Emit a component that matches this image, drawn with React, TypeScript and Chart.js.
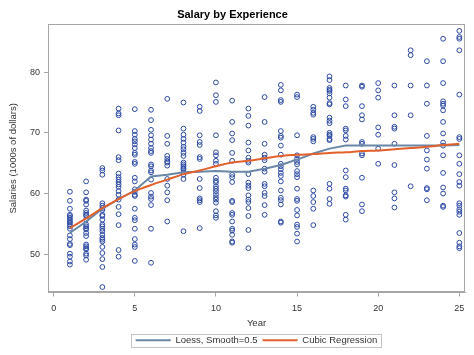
import React, { useEffect, useRef } from "react";
import { Chart, registerables } from "chart.js";

Chart.register(...registerables);

const chartTitle = "Salary by Experience";
const xTitle = "Year";
const yTitle = "Salaries (1000s of dollars)";
const seriesNames = ["Loess, Smooth=0.5", "Cubic Regression"];

const years = [1, 2, 3, 4, 5, 6, 7, 8, 9, 10, 11, 12, 13, 14, 15, 16, 17, 18, 19, 20, 21, 22, 23, 24, 25];
const xTicks = [0, 5, 10, 15, 20, 25];
const yTicks = [50, 60, 70, 80];

// Observed salaries for each year of experience
const year01 = [60.3, 58.8, 57.5, 56.5, 56.3, 56.0, 55.7, 55.4, 55.2, 54.9, 54.6, 54.2, 53.1, 52.5, 51.7, 51.5, 50.1, 49.6, 48.8, 48.3];
const year02 = [62.0, 60.2, 59.0, 58.8, 58.2, 57.2, 56.8, 56.5, 56.3, 55.7, 54.9, 54.6, 54.3, 54.1, 53.5, 53.0, 51.6, 51.3, 51.0, 50.8, 50.1, 49.8, 49.1];
const year03 = [64.2, 63.8, 63.1, 58.4, 58.0, 57.6, 57.3, 56.5, 56.3, 55.7, 54.9, 54.6, 54.2, 53.8, 53.2, 52.7, 52.4, 52.1, 51.2, 50.2, 49.2, 47.9, 44.6];
const year04 = [74.0, 73.2, 72.9, 70.4, 66.0, 65.5, 63.3, 62.7, 62.3, 61.9, 61.5, 61.1, 60.4, 59.8, 59.0, 57.8, 56.6, 54.8, 50.7, 49.6];
const year05 = [73.9, 70.3, 69.7, 69.0, 68.6, 68.1, 67.5, 66.7, 66.4, 65.2, 64.9, 62.6, 62.0, 60.7, 60.3, 59.8, 59.6, 57.5, 56.0, 55.6, 54.2, 52.5, 51.6, 51.2, 48.9];
const year06 = [73.8, 72.1, 70.5, 69.6, 68.9, 68.2, 67.5, 67.0, 66.7, 64.8, 64.5, 63.8, 63.5, 62.3, 60.1, 59.5, 59.1, 58.1, 54.2, 48.6];
const year07 = [75.6, 69.5, 68.2, 66.2, 65.7, 65.3, 65.1, 64.6, 62.4, 61.3, 60.2, 58.9, 55.4];
const year08 = [75.0, 70.7, 69.7, 69.0, 68.4, 67.7, 67.3, 66.7, 66.2, 65.1, 64.8, 64.5, 64.2, 64.0, 63.5, 63.1, 62.4, 53.8];
const year09 = [74.3, 73.6, 69.6, 68.5, 68.0, 66.0, 65.7, 62.4, 60.9, 59.2, 58.9, 58.6, 54.3];
const year10 = [78.3, 76.2, 75.1, 69.6, 66.8, 66.3, 65.4, 64.9, 62.6, 62.1, 61.8, 61.2, 60.8, 60.4, 59.9, 59.4, 59.0, 58.5, 57.1, 56.4, 56.0];
const year11 = [75.3, 71.8, 69.9, 68.8, 66.7, 65.4, 63.1, 62.7, 61.9, 58.8, 58.6, 56.8, 56.5, 55.4, 54.2, 53.9, 53.2, 52.1, 51.9];
const year12 = [74.0, 72.8, 71.2, 68.4, 67.1, 65.9, 65.4, 65.1, 63.2, 61.8, 61.3, 60.9, 59.7, 59.0, 58.6, 57.6, 56.3, 54.0, 51.0];
const year13 = [75.9, 71.8, 68.2, 66.4, 65.9, 65.5, 64.1, 63.6, 61.6, 61.2, 60.1, 59.6, 58.1, 56.5];
const year14 = [77.9, 77.0, 75.4, 75.1, 70.3, 69.5, 69.2, 67.9, 66.4, 64.9, 64.5, 64.0, 63.4, 62.9, 62.0, 60.5, 59.3, 58.9, 58.2, 55.4, 55.2];
const year15 = [76.3, 75.9, 69.6, 66.3, 65.7, 65.2, 64.8, 63.7, 63.2, 62.7, 60.8, 59.1, 58.8, 57.3, 56.4, 54.9, 54.5, 53.4, 52.1];
const year16 = [74.3, 73.8, 73.3, 73.0, 69.3, 69.0, 68.6, 60.5, 59.6, 58.6, 57.5, 54.8];
const year17 = [79.3, 78.7, 77.4, 77.1, 76.9, 76.5, 75.8, 74.9, 74.7, 72.5, 72.0, 71.6, 70.0, 69.7, 69.5, 69.0, 68.8, 61.6, 60.8, 59.1, 58.3];
const year18 = [77.8, 75.5, 74.4, 70.7, 70.4, 69.5, 68.9, 63.8, 62.7, 60.8, 60.5, 59.7, 59.5, 56.5, 55.7];
const year19 = [77.8, 77.6, 74.4, 72.9, 72.2, 68.5, 68.2, 66.6, 66.3, 62.6, 58.2, 57.1];
const year20 = [78.2, 77.0, 75.8, 70.9, 69.7, 67.4, 64.9];
const year21 = [77.8, 72.9, 71.0, 70.7, 68.2, 64.7, 60.2, 59.2, 57.7];
const year22 = [83.6, 82.8, 77.8, 72.9, 61.2];
const year23 = [81.8, 77.8, 74.8, 69.5, 67.1, 65.6, 64.1, 60.9, 60.7, 58.9];
const year24 = [85.5, 81.8, 78.2, 75.2, 74.8, 74.5, 73.7, 71.8, 69.9, 68.4, 67.9, 66.3, 63.4, 61.0, 60.0, 58.0, 57.8];
const year25 = [86.8, 85.8, 85.5, 83.6, 76.3, 69.3, 69.0, 66.3, 64.9, 63.2, 61.9, 61.3, 58.4, 58.0, 57.4, 57.0, 56.5, 53.5, 51.9, 51.3, 51.0];

const salaryGroups = [
  year01, year02, year03, year04, year05, year06, year07, year08, year09, year10,
  year11, year12, year13, year14, year15, year16, year17, year18, year19, year20,
  year21, year22, year23, year24, year25,
];

// Fitted curves (value at each year)
const loessFit = [53.5, 55.4, 57.5, 59.1, 60.5, 62.8, 63.1, 63.5, 63.6, 63.7, 63.6, 63.6, 64.1, 64.7, 65.6, 66.6, 67.4, 67.9, 67.9, 67.9, 67.9, 67.9, 67.9, 67.9, 68.0];
const cubicFit = [54.3, 55.9, 57.6, 59.1, 60.4, 61.4, 62.3, 63.2, 63.8, 64.5, 65.1, 65.4, 65.8, 66.2, 66.4, 66.5, 66.7, 66.8, 67.0, 67.1, 67.3, 67.5, 67.7, 68.0, 68.2];

const FONT = "'Liberation Sans', Arial, Helvetica, sans-serif";

const framePlugin = {
  id: "frameAndLegendBox",
  afterDraw(chart: any) {
    const { ctx, chartArea } = chart;
    ctx.save();
    ctx.strokeStyle = "#a6a6a6";
    ctx.lineWidth = 1;
    ctx.strokeRect(
      Math.round(chartArea.left) + 0.5,
      Math.round(chartArea.top) + 0.5,
      Math.round(chartArea.right - chartArea.left) - 1,
      Math.round(chartArea.bottom - chartArea.top) - 1
    );
    const lg = chart.legend;
    if (lg && lg.legendHitBoxes && lg.legendHitBoxes.length) {
      const hb = lg.legendHitBoxes;
      const first = hb[0];
      const last = hb[hb.length - 1];
      const l = Math.round(first.left - 5) + 0.5;
      const r = Math.round(last.left + last.width + 4) + 0.5;
      const t = Math.round(first.top - 2) + 0.5;
      const b = Math.round(first.top + first.height + 2) + 0.5;
      ctx.strokeStyle = "#c4c4c4";
      ctx.strokeRect(l, t, r - l, b - t);
    }
    ctx.restore();
  },
};

export default function App() {
  const canvasRef = useRef<HTMLCanvasElement | null>(null);

  useEffect(() => {
    document.body.style.margin = "0";
    const canvas = canvasRef.current;
    if (!canvas) return;

    const points: { x: number; y: number }[] = [];
    salaryGroups.forEach((group, i) => {
      group.forEach((v) => points.push({ x: years[i], y: v }));
    });

    const chart = new Chart(canvas, {
      type: "scatter",
      data: {
        datasets: [
          {
            type: "line",
            label: seriesNames[0],
            data: years.map((x, i) => ({ x, y: loessFit[i] })),
            borderColor: "#6a87a8",
            backgroundColor: "#6a87a8",
            borderWidth: 2,
            pointRadius: 0,
            tension: 0,
            fill: false,
            order: 1,
          } as any,
          {
            type: "line",
            label: seriesNames[1],
            data: years.map((x, i) => ({ x, y: cubicFit[i] })),
            borderColor: "#e2602c",
            backgroundColor: "#e2602c",
            borderWidth: 2,
            pointRadius: 0,
            tension: 0.4,
            cubicInterpolationMode: "monotone",
            fill: false,
            order: 0,
          } as any,
          {
            type: "scatter",
            label: "Salary",
            data: points,
            pointStyle: "circle",
            pointRadius: 2.4,
            pointBorderWidth: 1,
            borderColor: "#2b49a3",
            backgroundColor: "rgba(0,0,0,0)",
            order: 2,
          } as any,
        ],
      },
      options: {
        responsive: false,
        animation: false,
        layout: { padding: { left: 0, right: 9, top: 0, bottom: 0 } },
        scales: {
          x: {
            type: "linear",
            min: -0.35,
            max: 25.35,
            afterBuildTicks: (axis: any) => {
              axis.ticks = xTicks.map((v) => ({ value: v }));
            },
            afterFit: (scale: any) => {
              scale.height = 38;
            },
            grid: {
              drawOnChartArea: false,
              drawTicks: true,
              tickLength: 4,
              color: "#a6a6a6",
            },
            border: { display: true, color: "#a6a6a6" },
            ticks: {
              padding: 7,
              color: "#333333",
              font: { family: FONT, size: 9 },
              maxRotation: 0,
            },
            title: {
              display: true,
              text: xTitle,
              color: "#333333",
              font: { family: FONT, size: 9.5 },
              padding: { top: 0, bottom: 1 },
            },
          },
          y: {
            type: "linear",
            min: 43.7,
            max: 87.9,
            afterBuildTicks: (axis: any) => {
              axis.ticks = yTicks.map((v) => ({ value: v }));
            },
            afterFit: (scale: any) => {
              scale.width = 48;
            },
            grid: {
              drawOnChartArea: false,
              drawTicks: true,
              tickLength: 4,
              color: "#a6a6a6",
            },
            border: { display: true, color: "#a6a6a6" },
            ticks: {
              padding: 4,
              color: "#333333",
              font: { family: FONT, size: 9 },
            },
            title: {
              display: true,
              text: yTitle,
              color: "#333333",
              font: { family: FONT, size: 9.5 },
              padding: { top: 8, bottom: 0 },
            },
          },
        },
        plugins: {
          title: {
            display: true,
            text: chartTitle,
            color: "#000000",
            font: { family: FONT, size: 11, weight: "bold" },
            padding: { top: 8, bottom: 3 },
          },
          legend: {
            display: true,
            position: "bottom",
            fullSize: false,
            labels: {
              boxWidth: 35,
              boxHeight: 2,
              padding: 5,
              color: "#333333",
              font: { family: FONT, size: 9.5 },
              filter: (item: any) => item.datasetIndex !== 2,
              sort: (a: any, b: any) => a.datasetIndex - b.datasetIndex,
              generateLabels: (c: any) =>
                Chart.defaults.plugins.legend.labels
                  .generateLabels(c)
                  .map((it: any) => ({ ...it, lineWidth: 0 })),
            },
          },
          tooltip: { enabled: false },
        },
      } as any,
      plugins: [framePlugin],
    });

    return () => {
      chart.destroy();
    };
  }, []);

  return (
    <div style={{ width: 474, height: 355, overflow: "hidden", background: "#ffffff" }}>
      <canvas ref={canvasRef} width={474} height={355} style={{ display: "block" }} />
    </div>
  );
}
